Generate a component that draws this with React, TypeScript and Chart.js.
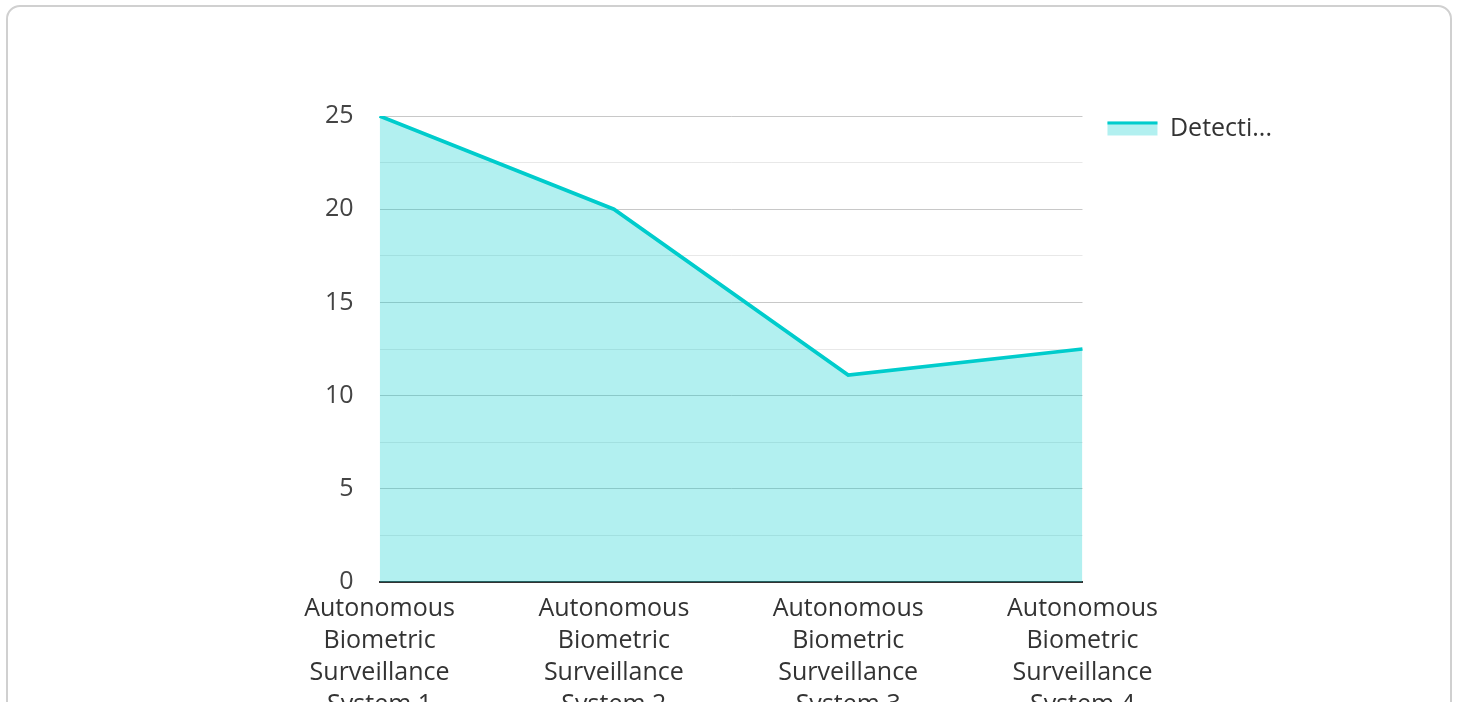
import React, { useEffect, useRef } from "react";
import { Chart, registerables } from "chart.js";

Chart.register(...registerables);

const categories: string[][] = [
  ["Autonomous", "Biometric", "Surveillance", "System 1"],
  ["Autonomous", "Biometric", "Surveillance", "System 2"],
  ["Autonomous", "Biometric", "Surveillance", "System 3"],
  ["Autonomous", "Biometric", "Surveillance", "System 4"],
];
const seriesName = "Detection Rate";
const legendText = "Detecti...";
const detectionValues = [25, 20, 11.1, 12.5];
const yMin = 0;
const yMax = 25;
const yStep = 2.5;
const yLabelStep = 5;

const FONT = "'Open Sans', 'Noto Sans', sans-serif";
const LINE = "#00cccc";
const FILL = "rgba(0, 204, 204, 0.3)";

const legendTopLine = {
  id: "legendTopLine",
  afterDraw(chart: any) {
    const lg = chart.legend;
    if (!lg || !lg.legendHitBoxes || !lg.legendHitBoxes.length) return;
    const hb = lg.legendHitBoxes[0];
    const boxW = lg.options.labels.boxWidth;
    const boxH = lg.options.labels.boxHeight;
    const itemH = hb.height;
    const top = hb.top + (itemH - boxH) / 2;
    const ctx = chart.ctx;
    ctx.save();
    ctx.fillStyle = LINE;
    ctx.fillRect(hb.left, top, boxW, 3);
    ctx.restore();
  },
};

export default function App() {
  const ref = useRef<HTMLCanvasElement | null>(null);
  useEffect(() => {
    if (!ref.current) return;
    const chart = new Chart(ref.current, {
      type: "line",
      data: {
        labels: categories,
        datasets: [
          {
            label: seriesName,
            data: detectionValues,
            borderColor: LINE,
            backgroundColor: FILL,
            borderWidth: 3.7,
            fill: "origin",
            pointRadius: 0,
            tension: 0,
          },
        ],
      },
      plugins: [legendTopLine],
      options: {
        animation: false,
        responsive: false,
        maintainAspectRatio: false,
        layout: { padding: { left: 299, right: 176, top: 116, bottom: 28 } },
        plugins: {
          tooltip: { enabled: false },
          legend: {
            position: "right",
            align: "start",
            title: {
              display: true,
              text: "",
              font: { size: 12, lineHeight: 1.25 },
              padding: { top: -40, bottom: 0 },
            },
            labels: {
              boxWidth: 50,
              boxHeight: 14,
              padding: 25,
              color: "#333333",
              font: { family: FONT, size: 25 },
              generateLabels: () => [
                {
                  text: legendText,
                  fillStyle: FILL,
                  strokeStyle: LINE,
                  fontColor: "#333333",
                  lineWidth: 0,
                  hidden: false,
                  datasetIndex: 0,
                },
              ],
            },
          },
        },
        scales: {
          x: {
            offset: false,
            grid: { display: false, drawTicks: false },
            border: { display: true, color: "#333333", width: 2 },
            ticks: {
              maxRotation: 0,
              autoSkip: false,
              padding: 11,
              color: "#333333",
              font: { family: FONT, size: 25, lineHeight: 1.28 },
            },
          },
          y: {
            min: yMin,
            max: yMax,
            border: { display: false },
            grid: {
              drawTicks: false,
              color: (c: any) =>
                c.tick && c.tick.value % yLabelStep === 0 ? "#c8c8c8" : "#e8e8e8",
              lineWidth: 1,
            },
            ticks: {
              stepSize: yStep,
              padding: 26,
              color: "#444444",
              font: { family: FONT, size: 25 },
              callback: (v: any) => (Number(v) % yLabelStep === 0 ? String(v) : ""),
            },
          },
        },
      },
    });
    return () => chart.destroy();
  }, []);

  return (
    <div
      style={{
        position: "absolute",
        left: 0,
        top: 0,
        width: 1458,
        height: 702,
        overflow: "hidden",
        background: "#ffffff",
      }}
    >
      <canvas
        ref={ref}
        width={1458}
        height={760}
        style={{ position: "absolute", left: 0, top: 0, width: 1458, height: 760, zIndex: 0 }}
      />
      <div
        style={{
          position: "absolute",
          left: 6,
          top: 5,
          width: 1446,
          height: 775,
          border: "2px solid #d0d0d0",
          borderRadius: 14,
          boxSizing: "border-box",
          background: "transparent",
          pointerEvents: "none",
          zIndex: 1,
        }}
      />
    </div>
  );
}
